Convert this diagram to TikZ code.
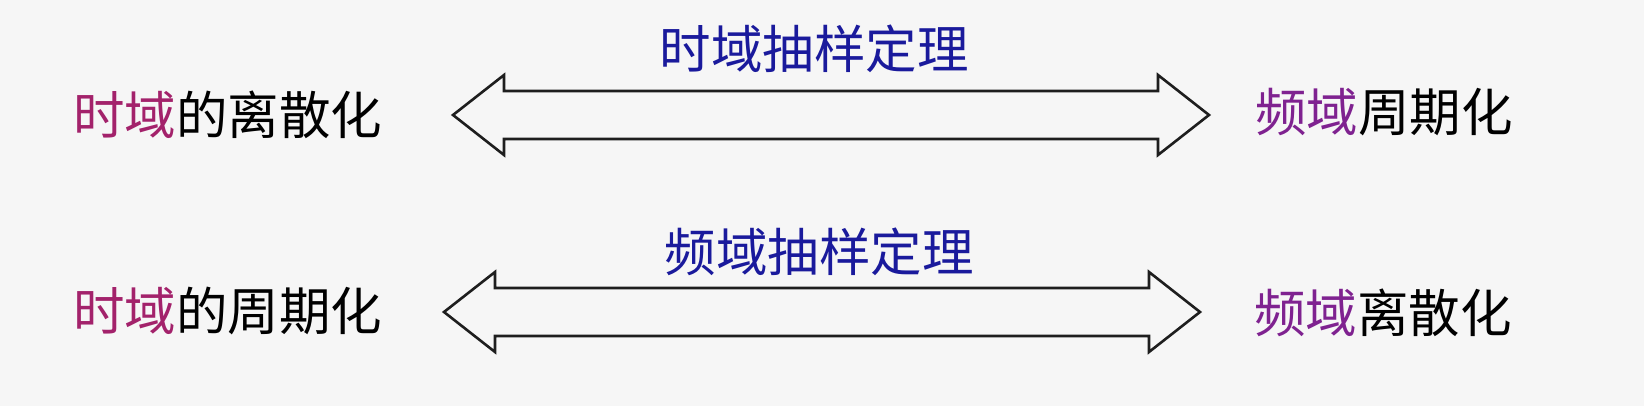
\documentclass[tikz,border=0pt]{standalone}
\usepackage{fontspec}
\setmainfont{Noto Sans CJK SC}
\usetikzlibrary{calc}
\definecolor{bgc}{HTML}{F6F6F6}
\definecolor{timec}{HTML}{A3226B}
\definecolor{freqc}{HTML}{7F2290}
\definecolor{titlec}{HTML}{1A1A9C}
\definecolor{arrowc}{HTML}{1E1E1E}
\begin{document}
\begin{tikzpicture}[x=1pt,y=-1pt,
  lbl/.style={inner sep=0pt, font=\fontsize{51.5pt}{60pt}\selectfont, anchor=base west},
  ttl/.style={inner sep=0pt, font=\fontsize{51.5pt}{60pt}\selectfont, text=titlec, anchor=base},
  dblarrow/.style={draw=arrowc, line width=2.6pt, line join=miter}]
\fill[bgc] (0,0) rectangle (1644,406);
\useasboundingbox (0,0) rectangle (1644,406);

% top row
\node[lbl] (tl) at (73,135) {\textcolor{timec}{时域}的离散化};
\node[lbl] (tr) at (1255,132) {\textcolor{freqc}{频域}周期化};
\node[ttl] (tt) at (814,69) {时域抽样定理};
\coordinate (aL) at (453,115);
\coordinate (aR) at (1209,115);
\draw[dblarrow] (aL) -- ++(51,-40) -- ++(0,16) -- ($(aR)+(-51,-24)$) -- ++(0,-16) -- (aR)
  -- ++(-51,40) -- ++(0,-16) -- ($(aL)+(51,24)$) -- ++(0,16) -- cycle;

% bottom row
\node[lbl] (bl) at (73,330) {\textcolor{timec}{时域}的周期化};
\node[lbl] (br) at (1254,332) {\textcolor{freqc}{频域}离散化};
\node[ttl] (bt) at (819,271) {频域抽样定理};
\coordinate (bL) at (444,312);
\coordinate (bR) at (1200,312);
\draw[dblarrow] (bL) -- ++(51,-40) -- ++(0,16) -- ($(bR)+(-51,-24)$) -- ++(0,-16) -- (bR)
  -- ++(-51,40) -- ++(0,-16) -- ($(bL)+(51,24)$) -- ++(0,16) -- cycle;
\end{tikzpicture}
\end{document}
